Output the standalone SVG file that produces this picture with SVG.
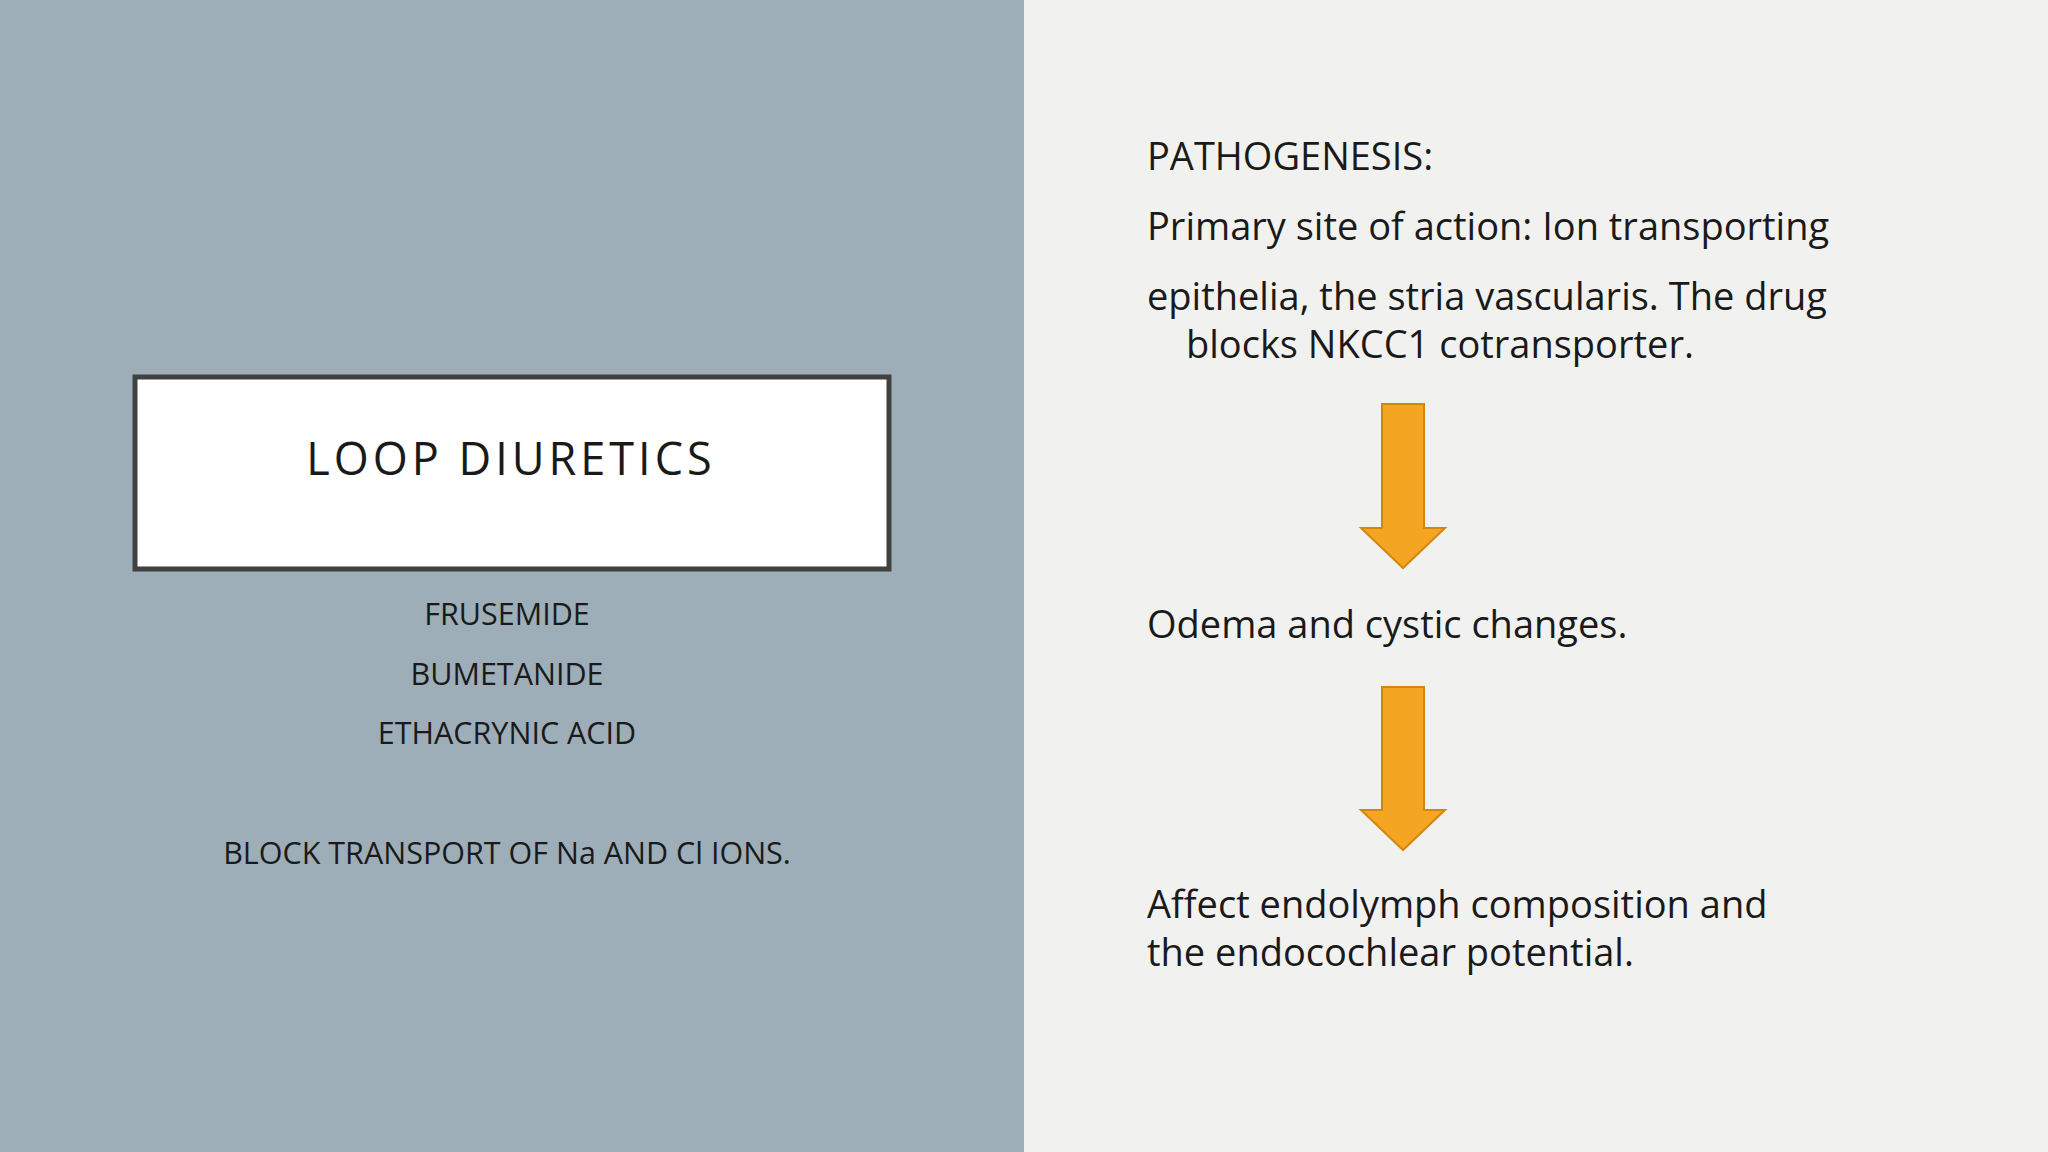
<svg xmlns="http://www.w3.org/2000/svg" width="2048" height="1152" viewBox="0 0 2048 1152">
<style>
.t{font-family:"Open Sans","Noto Sans",sans-serif;fill:#1a1a1a}
.l{font-size:30.5px;text-anchor:middle}
.r{font-size:38px}
.arrow{fill:#F4A522;stroke:#D4870E;stroke-width:2}
</style>
<rect x="0" y="0" width="1024" height="1152" fill="#9DAEB8"/>
<rect x="1024" y="0" width="1024" height="1152" fill="#F1F2F0"/>
<g id="title">
<rect x="135" y="377" width="754" height="192" fill="#FFFFFF" stroke="#404040" stroke-width="5"/>
<text class="t" x="511" y="475" font-size="45" text-anchor="middle" letter-spacing="4" fill="#333">LOOP DIURETICS</text>
</g>
<g id="drugs">
<text class="t l" x="507" y="625">FRUSEMIDE</text>
<text class="t l" x="507" y="685">BUMETANIDE</text>
<text class="t l" x="507" y="744">ETHACRYNIC ACID</text>
<text class="t l" x="507" y="864">BLOCK TRANSPORT OF Na AND Cl IONS.</text>
</g>
<g id="pathogenesis">
<text class="t r" x="1147" y="170">PATHOGENESIS:</text>
<text class="t r" x="1147" y="240">Primary site of action: Ion transporting</text>
<text class="t r" x="1147" y="310">epithelia, the stria vascularis. The drug</text>
<text class="t r" x="1186" y="358">blocks NKCC1 cotransporter.</text>
</g>
<g id="odema"><text class="t r" x="1147" y="638">Odema and cystic changes.</text></g>
<g id="affect">
<text class="t r" x="1147" y="918">Affect endolymph composition and</text>
<text class="t r" x="1147" y="966">the endocochlear potential.</text>
</g>
<g id="connectors">
<polygon class="arrow" points="1382,404 1424,404 1424,528 1445,528 1403,568 1361,528 1382,528"/>
<polygon class="arrow" points="1382,687 1424,687 1424,810 1445,810 1403,850 1361,810 1382,810"/>
</g>
</svg>
